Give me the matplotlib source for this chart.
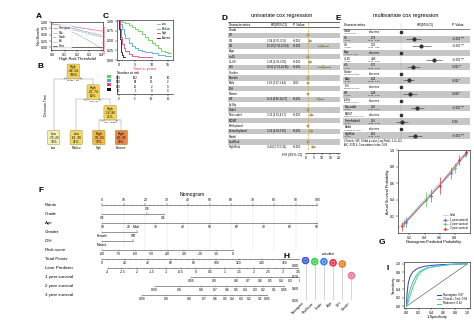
import matplotlib

matplotlib.use("Agg")
import matplotlib.pyplot as plt
import matplotlib.transforms as mtransforms
import numpy as np

plt.rcParams["font.family"] = ["Liberation Sans", "DejaVu Sans"]
plt.rcParams["axes.linewidth"] = 0.4
plt.rcParams["xtick.major.width"] = 0.3
plt.rcParams["ytick.major.width"] = 0.3
plt.rcParams["xtick.major.size"] = 1.2
plt.rcParams["ytick.major.size"] = 1.2
plt.rcParams["xtick.major.pad"] = 0.8
plt.rcParams["ytick.major.pad"] = 0.8
plt.rcParams["xtick.labelsize"] = 2.6
plt.rcParams["ytick.labelsize"] = 2.6

W, H = 474, 327

# ── data ──────────────────────────────────────────────────────────────

# A: decision curve
dca_threshold = [0.0, 0.1, 0.2, 0.3, 0.4]
dca_nomogram = [0.92, 0.86, 0.79, 0.72, 0.64]
dca_risk = [0.92, 0.82, 0.71, 0.59, 0.48]
dca_grade = [0.92, 0.79, 0.66, 0.53, 0.41]
dca_all = [0.92, 0.74, 0.52, 0.26, -0.06]
dca_none = [0.0, 0.0, 0.0, 0.0, 0.0]
dca_labels = ["Nomogram", "Risk", "Grade", "All", "None"]

# C: Kaplan-Meier
km_labels = ["Low", "Medium", "High", "Extreme"]
km_t_low = [0, 1, 2, 3, 4, 5, 6, 7, 8, 9, 10, 11, 12, 13, 14, 15, 16]
km_s_low = [1.0, 0.98, 0.95, 0.91, 0.86, 0.80, 0.74, 0.67, 0.60, 0.52, 0.45, 0.38, 0.30, 0.24, 0.20, 0.17, 0.17]
km_t_mid = [0, 0.5, 1, 1.5, 2, 3, 4, 5, 6, 7, 8, 10, 12, 14, 16]
km_s_mid = [1.0, 0.92, 0.80, 0.68, 0.57, 0.45, 0.36, 0.30, 0.26, 0.22, 0.20, 0.18, 0.12, 0.10, 0.10]
km_t_high = [0, 0.3, 0.6, 1, 1.5, 2, 3, 4, 6, 8, 10]
km_s_high = [1.0, 0.80, 0.60, 0.42, 0.30, 0.22, 0.15, 0.10, 0.08, 0.07, 0.07]
km_t_ext = [0, 0.2, 0.4, 0.6, 0.8, 1.0, 1.3, 2.0]
km_s_ext = [1.0, 0.80, 0.55, 0.35, 0.20, 0.12, 0.08, 0.08]
risk_times = [0, 5, 10, 15]
risk_low = [250, 162, 61, 10]
risk_mid = [180, 58, 15, 2]
risk_high = [150, 11, 2, 0]
risk_ext = [60, 1, 0, 0]

# B: decision tree (node text, split rule, leaf names)
tree_text = ["High\n.46 .54\n100%", "Low\n.78 .22\n38%", "High\n.26 .74\n62%",
             "Low\n.61 .39\n21%", "High\n.14 .86\n41%", "High\n.35 .65\n12%", "High\n.05 .95\n29%"]
tree_split = ["Grade = G2", "", "Age < 50", "", "IDH = Mutant", "", ""]
leaf_names = ["Low", "Mid-low", "High", "Extreme"]

# D: univariate cox
uni_labels = ["Grade", "G2", "G3", "G4", "Age", "<=40", "41-60", ">60", "Gender", "Female", "Male",
              "IDH", "Mutant", "WT", "1p19q", "Codel", "Non-codel", "MGMT", "Methylated",
              "Unmethylated", "Model", "LowRisk", "HighRisk"]
uni_hr = [np.nan, 1.0, 2.54, 10.19, np.nan, 1.0, 2.45, 10.61, np.nan, 1.0, 1.18,
          np.nan, 1.0, 8.21, np.nan, 1.0, 3.31, np.nan, 1.0, 3.25, np.nan, 1.0, 4.44]
uni_lo = [np.nan, 1.0, 2.07, 7.51, np.nan, 1.0, 2.00, 7.51, np.nan, 1.0, 0.97,
          np.nan, 1.0, 6.56, np.nan, 1.0, 2.63, np.nan, 1.0, 2.69, np.nan, 1.0, 3.72]
uni_hi = [np.nan, 1.0, 3.11, 13.84, np.nan, 1.0, 3.01, 14.98, np.nan, 1.0, 1.44,
          np.nan, 1.0, 10.27, np.nan, 1.0, 4.17, np.nan, 1.0, 3.93, np.nan, 1.0, 5.31]
uni_p = ["", "", "<0.001", "<0.001", "", "", "<0.001", "<0.001", "", "", "0.102",
         "", "", "<0.001", "", "", "<0.001", "", "", "<0.001", "", "", "<0.001"]

# E: multivariate cox
multi_vars = ["Grade", "", "", "Age", "", "", "Gender", "", "IDH", "", "1p19q", "", "MGMT", "", "Model", ""]
multi_levels = ["G2", "G3", "G4", "<=40", "41-60", ">60", "Female", "Male", "Mutant", "WT",
                "Codel", "Non-codel", "Methylated", "Unmethylated", "LowRisk", "HighRisk"]
multi_n = [226, 244, 166, 256, 286, 94, 268, 368, 416, 220, 167, 469, 476, 160, 318, 318]
multi_hr = [np.nan, 1.78, 2.52, np.nan, 4.46, 1.76, np.nan, 1.41, np.nan, 1.49,
            np.nan, 2.10, np.nan, 1.05, np.nan, 1.86]
multi_lo = [np.nan, 1.27, 1.65, np.nan, 3.16, 1.30, np.nan, 1.08, np.nan, 1.10,
            np.nan, 1.55, np.nan, 0.80, np.nan, 1.35]
multi_hi = [np.nan, 2.49, 3.85, np.nan, 6.29, 2.38, np.nan, 1.84, np.nan, 2.02,
            np.nan, 2.84, np.nan, 1.38, np.nan, 2.56]
multi_p = ["", "<0.001 ***", "<0.001 ***", "", "<0.001 ***", "0.001 **", "", "0.011 *", "",
           "0.010 *", "", "<0.001 ***", "", "0.716", "", "<0.001 ***"]

# F: nomogram (positions in points)
nomo_points = [0, 10, 20, 30, 40, 50, 60, 70, 80, 90, 100]
grade_levels = ["G2", "G3", "G4"]
grade_pts = [0, 21, 28.5]
age_ticks = [10, 20, 30, 40, 50, 60, 70, 80, 90]
age_pts_per_year = 1.25
gender_levels = ["Female", "Male"]
gender_pts = [0, 16]
idh_levels = ["Mutant", "WT"]
idh_pts = [0, 14.5]
risk_ticks = [-80, -70, -60, -50, -40, -30, -20, -10, 0]
risk_pts_per_unit = 0.76
total_ticks = [0, 20, 40, 60, 80, 100, 120, 140, 160, 180, 200, 220]
lp_ticks = [-3, -2.5, -2, -1.5, -1, -0.5, 0, 0.5, 1, 1.5, 2, 2.5, 3, 3.5]
lp_total = [4.7, 17.6, 30.4, 43.3, 56.1, 69.0, 81.8, 94.7, 107.5, 120.4, 133.2, 146.1, 158.9, 171.8]
surv1_labels = ["0.99", "0.9", "0.8", "0.7", "0.6", "0.5", "0.4", "0.3", "0.2", "0.1"]
surv1_total = [78, 98, 118, 128, 139, 148, 157, 165, 175, 184]
surv2_labels = ["0.99", "0.9", "0.8", "0.7", "0.6", "0.5", "0.4", "0.3", "0.2", "0.1", "0.05"]
surv2_total = [46, 68, 87, 99, 110, 118, 126, 134, 141, 151, 160]
surv3_labels = ["0.99", "0.9", "0.8", "0.7", "0.6", "0.5", "0.4", "0.3", "0.2", "0.1", "0.05"]
surv3_total = [35, 56, 76, 90, 99, 108, 114, 122, 129, 139, 145]
total_to_points = 0.53

# G: calibration
cal_1y_pred = [0.16, 0.48, 0.75, 0.95]
cal_1y_obs = [0.13, 0.45, 0.72, 0.96]
cal_1y_err = [0.06, 0.08, 0.07, 0.03]
cal_2y_pred = [0.13, 0.42, 0.80, 0.93]
cal_2y_obs = [0.12, 0.40, 0.78, 0.94]
cal_2y_err = [0.05, 0.09, 0.06, 0.03]
cal_3y_pred = [0.10, 0.60, 0.86, 0.95]
cal_3y_obs = [0.08, 0.57, 0.88, 0.97]
cal_3y_err = [0.05, 0.10, 0.06, 0.03]

# H: c-index
cindex_models = ["Nomogram", "RiskScore", "Grade", "Age", "IDH", "Gender"]
cindex_values = [0.84, 0.83, 0.83, 0.82, 0.81, 0.71]

# I: ROC
roc_fpr_nomo = [0, 0.01, 0.03, 0.06, 0.10, 0.15, 0.20, 0.30, 0.40, 0.60, 0.80, 1.0]
roc_tpr_nomo = [0, 0.30, 0.55, 0.70, 0.80, 0.86, 0.90, 0.94, 0.96, 0.98, 0.99, 1.0]
roc_fpr_clin = [0, 0.02, 0.05, 0.10, 0.15, 0.20, 0.30, 0.40, 0.60, 0.80, 1.0]
roc_tpr_clin = [0, 0.15, 0.35, 0.55, 0.70, 0.80, 0.88, 0.92, 0.96, 0.99, 1.0]
roc_fpr_risk = [0, 0.03, 0.07, 0.12, 0.18, 0.25, 0.35, 0.50, 0.70, 1.0]
roc_tpr_risk = [0, 0.10, 0.30, 0.50, 0.70, 0.82, 0.90, 0.94, 0.98, 1.0]
roc_labels = ["Nomogram: 0.87", "Clinical + Test: 0.84", "Riskscore: 0.82"]

# ── helpers ───────────────────────────────────────────────────────────

fig = plt.figure(figsize=(W / 100, H / 100), dpi=100)


def px_axes(x0, y0, x1, y1):
    return fig.add_axes([x0 / W, 1 - y1 / H, (x1 - x0) / W, (y1 - y0) / H])


def panel_label(x, y, s):
    fig.text(x / W, 1 - y / H, s, fontsize=6, fontweight="bold", ha="center", va="center")


# ── A: decision curve ────────────────────────────────────────────────
axA = px_axes(51, 22, 103, 50)
axA.plot(dca_threshold, dca_nomogram, color="#e16b8c", lw=0.5, label=dca_labels[0])
axA.plot(dca_threshold, dca_risk, color="#86b7e6", lw=0.5, label=dca_labels[1])
axA.plot(dca_threshold, dca_grade, color="#999999", lw=0.5, ls="--", label=dca_labels[2])
axA.plot(dca_threshold, dca_all, color="#bbbbbb", lw=0.5, label=dca_labels[3])
axA.plot(dca_threshold, dca_none, color="#333333", lw=0.5, label=dca_labels[4])
axA.set_xlim(-0.01, 0.41)
axA.set_ylim(-0.1, 1.0)
axA.set_xticks(dca_threshold)
axA.set_yticks([0.0, 0.25, 0.5, 0.75, 1.0])
axA.set_xlabel("High Risk Threshold", fontsize=3, labelpad=0.5)
axA.set_ylabel("Net Benefit", fontsize=2.6, labelpad=0.4)
axA.grid(color="#eeeeee", lw=0.3)
axA.legend(loc="lower left", fontsize=1.8, frameon=True, handlelength=1.5, borderpad=0.3,
           labelspacing=0.2).get_frame().set_linewidth(0.3)
panel_label(39, 16, "A")

# ── C: Kaplan-Meier ──────────────────────────────────────────────────
axC = px_axes(117, 20, 173, 60)
km_colors = ["#66cc55", "#4aa8e0", "#e8407a", "#111111"]
for t, s, c, lab in zip([km_t_low, km_t_mid, km_t_high, km_t_ext],
                        [km_s_low, km_s_mid, km_s_high, km_s_ext], km_colors, km_labels):
    axC.step(t, s, where="post", color=c, lw=0.6, label=lab)
axC.set_xlim(-0.5, 16.5)
axC.set_ylim(0, 1.03)
axC.set_xticks(risk_times)
axC.set_yticks([0, 0.25, 0.5, 0.75, 1.0])
axC.set_xlabel("Time in years", fontsize=2.8, color="#e0304a", labelpad=0.3)
axC.set_ylabel("Survival probability", fontsize=2.4, color="#e0304a", labelpad=0.4)
axC.legend(loc="upper right", fontsize=1.8, frameon=False, handlelength=1.2, labelspacing=0.2)
panel_label(106, 16, "C")

axR = px_axes(117, 75, 173, 94)
axR.set_xlim(-0.5, 16.5)
axR.set_ylim(3.6, -0.6)
for j, counts in enumerate([risk_low, risk_mid, risk_high, risk_ext]):
    for t, n in zip(risk_times, counts):
        axR.text(t, j, str(n), fontsize=2.1, ha="center", va="center")
axR.set_xticks(risk_times)
axR.set_yticks([])
axR.tick_params(labelsize=2.1)
axR.set_title("Number at risk", fontsize=2.4, loc="left", pad=0.4)
for sp in ["top", "right"]:
    axR.spines[sp].set_visible(False)
for j, c in enumerate(km_colors):
    fig.patches.append(plt.Rectangle((107 / W, 1 - (78 + j * 4.2) / H), 4 / W, 3 / H,
                                     transform=fig.transFigure, color=c, lw=0))

# ── B: decision tree ─────────────────────────────────────────────────
axB = px_axes(40, 62, 135, 152)
axB.set_xlim(-0.6, 3.6)
axB.set_ylim(3.9, -0.45)
axB.axis("off")
children = {0: (1, 2), 2: (3, 4), 4: (5, 6)}
leaves = [1, 3, 5, 6]
node_x = {leaf: k for k, leaf in enumerate(leaves)}
for parent in [4, 2, 0]:
    a, b = children[parent]
    node_x[parent] = (node_x[a] + node_x[b]) / 2
node_y = {0: 0.0, 2: 1.0, 4: 2.0}
for leaf in leaves:
    node_y[leaf] = 3.2
leaf_colors = ["#f4f0b4", "#f2d86a", "#f0b64c", "#e98a4a"]
for parent, (a, b) in children.items():
    yb = node_y[parent] + 0.36
    axB.plot([node_x[a], node_x[b]], [yb, yb], color="#999999", lw=0.35)
    for ch in (a, b):
        axB.plot([node_x[ch], node_x[ch]], [yb, node_y[ch]], color="#999999", lw=0.35, zorder=0)
    axB.text(node_x[parent] - 0.32, yb, "yes", fontsize=1.6, ha="center", va="center",
             bbox=dict(boxstyle="round,pad=0.2", fc="white", ec="#888888", lw=0.2))
    axB.text(node_x[parent] + 0.32, yb, "no", fontsize=1.6, ha="center", va="center",
             bbox=dict(boxstyle="round,pad=0.2", fc="white", ec="#888888", lw=0.2))
    axB.text(node_x[parent], yb + 0.08, tree_split[parent], fontsize=1.6, ha="center", va="top")
for node, txt in enumerate(tree_text):
    fc = leaf_colors[leaves.index(node)] if node in leaves else "#f2d35c"
    axB.text(node_x[node], node_y[node], txt, fontsize=2.3, ha="center", va="center",
             linespacing=1.0, bbox=dict(boxstyle="round,pad=0.4", fc=fc, ec="#a08a3a", lw=0.3))
for k, leaf in enumerate(leaves):
    axB.text(node_x[leaf], node_y[leaf] + 0.42, leaf_names[k], fontsize=2.0, ha="center", va="top")
fig.text(46 / W, 1 - 105 / H, "Decision Tree", fontsize=2.6, rotation=90, ha="center", va="center")
panel_label(41, 66, "B")

# ── D: univariate cox ────────────────────────────────────────────────
n_uni = len(uni_labels)
axD = px_axes(228, 22, 340, 150)
axD.set_xlim(0, 1)
axD.set_ylim(n_uni - 0.5, -1.5)
axD.axis("off")
for i in range(n_uni):
    if i % 2 == 1:
        axD.axhspan(i - 0.5, i + 0.5, color="#c6c6c6", lw=0)
axD.axhline(-1.5, color="#222222", lw=0.5)
axD.axhline(-0.5, color="#222222", lw=0.5)
axD.text(0.01, -1, "Characteristics", fontsize=2.4, va="center")
axD.text(0.38, -1, "HR(95%CI)", fontsize=2.4, va="center")
axD.text(0.58, -1, "P Value", fontsize=2.4, va="center")
for i, lab in enumerate(uni_labels):
    axD.text(0.01, i, lab, fontsize=2.1, va="center")
    if uni_p[i]:
        axD.text(0.35, i, f"{uni_hr[i]:.2f} ({uni_lo[i]:.2f}-{uni_hi[i]:.2f})", fontsize=1.9, va="center")
        axD.text(0.58, i, uni_p[i], fontsize=1.9, va="center")
fig.text(282 / W, 1 - 15 / H, "univariate cox regression", fontsize=4, ha="center", va="center")
panel_label(224, 18, "D")

axDf = px_axes(306, 22, 340, 150)
axDf.set_xlim(0, 21)
axDf.set_ylim(n_uni - 0.5, -1.5)
axDf.patch.set_alpha(0)
axDf.axvline(1, color="#d9a441", lw=0.5, ls="--")
hr = np.array(uni_hr)
lo = np.array(uni_lo)
hi = np.array(uni_hi)
rows = np.arange(n_uni)
ok = ~np.isnan(hr)
axDf.errorbar(hr[ok], rows[ok], xerr=[hr[ok] - lo[ok], hi[ok] - hr[ok]], fmt="s", ms=1.8,
              mfc="#d8c98a", mec="#6d6330", mew=0.3, ecolor="#6d6330", elinewidth=0.4, capsize=0.8,
              capthick=0.3)
for sp in ["top", "right", "left"]:
    axDf.spines[sp].set_visible(False)
axDf.spines["bottom"].set_position(("outward", 2))
axDf.set_yticks([])
axDf.set_xticks([0, 5, 10, 15, 20])
axDf.text(-0.12, -0.02, "HR (95% CI)", transform=axDf.transAxes, fontsize=2.6, ha="right", va="top")

# ── E: multivariate cox ──────────────────────────────────────────────
n_multi = len(multi_levels)
axE = px_axes(343, 22, 470, 139)
axE.set_xlim(0, 1)
axE.set_ylim(n_multi - 0.5, -1.5)
axE.axis("off")
for i in range(n_multi):
    if i % 2 == 1:
        axE.axhspan(i - 0.5, i + 0.5, color="#c6c6c6", lw=0)
axE.axhline(-0.5, color="#222222", lw=0.4)
axE.text(0.01, -1, "Characteristics", fontsize=2.4, va="center")
axE.text(0.58, -1, "HR(95%CI)", fontsize=2.4, va="center")
axE.text(0.86, -1, "P Value", fontsize=2.4, va="center")
for i in range(n_multi):
    axE.text(0.01, i - 0.18, multi_vars[i] or multi_levels[i], fontsize=1.9, va="center")
    axE.text(0.01, i + 0.2, f"{multi_levels[i]} (N={multi_n[i]})" if multi_vars[i] else f"(N={multi_n[i]})",
             fontsize=1.6, va="center", color="#333333")
    if np.isnan(multi_hr[i]):
        axE.text(0.2, i, "reference", fontsize=1.9, va="center")
    else:
        axE.text(0.22, i - 0.18, f"{multi_hr[i]:.2f}", fontsize=1.9, va="center")
        axE.text(0.2, i + 0.2, f"({multi_lo[i]:.2f} - {multi_hi[i]:.2f})", fontsize=1.6, va="center")
        axE.text(0.86, i, multi_p[i], fontsize=1.9, va="center")
fig.text(406 / W, 1 - 15 / H, "multivariate cox regression", fontsize=4, ha="center", va="center")
fig.text(344 / W, 1 - 142 / H, "# Events: 389; Global p-value (Log-Rank): 1.2e-122", fontsize=1.8)
fig.text(344 / W, 1 - 146 / H, "AIC: 3745.6; Concordance Index: 0.84", fontsize=1.8)
panel_label(338, 18, "E")

axEf = px_axes(396, 22, 452, 139)
axEf.set_xscale("log")
axEf.set_xlim(0.8, 10)
axEf.set_ylim(n_multi - 0.5, -1.5)
axEf.patch.set_alpha(0)
axEf.axvline(1, color="#777777", lw=0.3, ls=":")
mhr = np.array(multi_hr)
mlo = np.array(multi_lo)
mhi = np.array(multi_hi)
mrows = np.arange(n_multi)
mok = ~np.isnan(mhr)
axEf.errorbar(mhr[mok], mrows[mok], xerr=[mhr[mok] - mlo[mok], mhi[mok] - mhr[mok]], fmt="o", ms=2,
              color="#333333", elinewidth=0.4, capsize=0)
axEf.plot(np.ones((~mok).sum()), mrows[~mok], "s", ms=1.8, color="#333333")
for sp in ["top", "right", "left"]:
    axEf.spines[sp].set_visible(False)
axEf.spines["bottom"].set_position(("outward", 10))
axEf.spines["bottom"].set_visible(False)
axEf.set_yticks([])
axEf.set_xticks([1, 2, 5, 10])
axEf.set_xticklabels(["1", "2", "5", "10"])
axEf.minorticks_off()

# ── F: nomogram ──────────────────────────────────────────────────────
axF = px_axes(98, 193, 360, 300)
axF.set_xlim(-2, 120)
axF.set_ylim(10.6, -1.3)
axF.axis("off")
nomo_rows = ["Points", "Grade", "Age", "Gender", "IDH", "Risk score", "Total Points",
             "Liner Predictor", "1 year survival", "2 year survival", "3 year survival"]
lab_tr = mtransforms.blended_transform_factory(fig.transFigure, axF.transData)
for i, name in enumerate(nomo_rows):
    axF.text(45 / W, i, name, transform=lab_tr, fontsize=3.2, va="center")
for p in nomo_points:
    axF.plot([p, p], [0, 5], color="#dddddd", lw=0.3, zorder=0)


def draw_scale(y, pos, labels, above=None, minor_step=None):
    pos = list(pos)
    axF.plot([min(pos), max(pos)], [y, y], color="#444444", lw=0.4)
    if minor_step:
        for m in np.arange(min(pos), max(pos) + 1e-6, minor_step):
            axF.plot([m, m], [y, y + 0.1], color="#444444", lw=0.25)
    for k, (p, s) in enumerate(zip(pos, labels)):
        up = above is not None and above[k]
        axF.plot([p, p], [y, y - 0.18 if up else y + 0.18], color="#444444", lw=0.3)
        axF.text(p, y - 0.25 if up else y + 0.25, s, fontsize=2.4, ha="center",
                 va="bottom" if up else "top")


draw_scale(0, nomo_points, [str(v) for v in nomo_points], above=[True] * len(nomo_points), minor_step=2)
draw_scale(1, grade_pts, grade_levels, above=[False, True, False])
draw_scale(2, [(a - age_ticks[0]) * age_pts_per_year for a in age_ticks], [str(a) for a in age_ticks])
draw_scale(3, gender_pts, gender_levels, above=[False, True])
draw_scale(4, idh_pts, idh_levels, above=[False, True])
draw_scale(5, [(r - risk_ticks[0]) * risk_pts_per_unit for r in risk_ticks], [str(r) for r in risk_ticks])
draw_scale(6, [t * total_to_points for t in total_ticks], [str(t) for t in total_ticks],
           minor_step=5 * total_to_points)
draw_scale(7, [t * total_to_points for t in lp_total], [f"{v:g}" for v in lp_ticks],
           minor_step=(lp_total[1] - lp_total[0]) * total_to_points / 2)
draw_scale(8, [t * total_to_points for t in surv1_total], surv1_labels)
draw_scale(9, [t * total_to_points for t in surv2_total], surv2_labels)
draw_scale(10, [t * total_to_points for t in surv3_total], surv3_labels)
axF.text(42, -1.15, "Nomogram", fontsize=3.6, ha="center", va="center")
panel_label(41, 190, "F")

# ── G: calibration ───────────────────────────────────────────────────
axG = px_axes(398, 150, 470, 233)
axG.plot([0, 1], [0, 1], color="#bbbbbb", lw=0.5, label="Ideal")
for xp, yo, er, c, lab in [(cal_1y_pred, cal_1y_obs, cal_1y_err, "#5a6cf0", "1-year survival"),
                           (cal_2y_pred, cal_2y_obs, cal_2y_err, "#5cc66a", "2-year survival"),
                           (cal_3y_pred, cal_3y_obs, cal_3y_err, "#e0354a", "3-year survival")]:
    axG.errorbar(xp, yo, yerr=er, color=c, lw=0.4, elinewidth=0.5, marker="o", ms=0.8, label=lab)
axG.set_xlim(0.05, 1.0)
axG.set_ylim(0.0, 1.0)
axG.set_xticks([0.2, 0.4, 0.6, 0.8])
axG.set_yticks([0.2, 0.4, 0.6, 0.8, 1.0])
axG.set_xlabel("Nomogram-Predicted Probability", fontsize=2.8, labelpad=0.5)
axG.set_ylabel("Actual Survival Probability", fontsize=2.8, labelpad=0.5)
axG.legend(loc="lower right", fontsize=2.0, frameon=False, handlelength=1.6, labelspacing=0.15)
panel_label(382, 243, "G")

# ── H: c-index ───────────────────────────────────────────────────────
axH = px_axes(300, 257, 357, 300)
h_colors = ["#3d5adf", "#3fcf4f", "#3d7ef0", "#e8334d", "#f27b22", "#e8789a"]
xh = np.arange(len(cindex_models))
axH.vlines(xh, 0.5, cindex_values, color="#cccccc", lw=0.6)
axH.scatter(xh, cindex_values, s=20, color=h_colors, zorder=3)
axH.scatter(xh, cindex_values, s=6, facecolor="none", edgecolor="white", lw=0.3, zorder=4)
axH.set_ylim(0.5, 0.87)
axH.set_xlim(-0.6, len(cindex_models) - 0.4)
axH.set_yticks([0.5, 0.6, 0.7, 0.8])
axH.set_yticklabels(["0.50", "0.60", "0.70", "0.80"])
axH.set_xticks(xh)
axH.set_xticklabels(cindex_models, rotation=45, ha="right", fontsize=2.3)
for sp in ["top", "right", "left", "bottom"]:
    axH.spines[sp].set_visible(False)
axH.tick_params(length=0)
axH.set_title("c-index", fontsize=3, pad=1.5)
panel_label(287, 257, "H")

# ── I: ROC ───────────────────────────────────────────────────────────
axI = px_axes(404, 262, 470, 308)
axI.plot([0, 1], [0, 1], color="#444444", lw=0.4)
axI.plot(roc_fpr_nomo, roc_tpr_nomo, color="#2c3fc0", lw=0.7, label=roc_labels[0])
axI.plot(roc_fpr_clin, roc_tpr_clin, color="#56c46a", lw=0.7, label=roc_labels[1])
axI.plot(roc_fpr_risk, roc_tpr_risk, color="#48c4d6", lw=0.7, label=roc_labels[2])
axI.set_xlim(-0.04, 1.04)
axI.set_ylim(-0.04, 1.04)
axI.set_xticks([0, 0.2, 0.4, 0.6, 0.8, 1.0])
axI.set_yticks([0, 0.2, 0.4, 0.6, 0.8, 1.0])
axI.set_xlabel("1-Specificity", fontsize=2.8, labelpad=0.5)
axI.set_ylabel("Sensitivity", fontsize=2.8, labelpad=0.5)
axI.legend(loc="lower right", fontsize=2.0, frameon=False, handlelength=1.6, labelspacing=0.15)
panel_label(388, 268, "I")

fig.savefig("out.png", dpi=100)
